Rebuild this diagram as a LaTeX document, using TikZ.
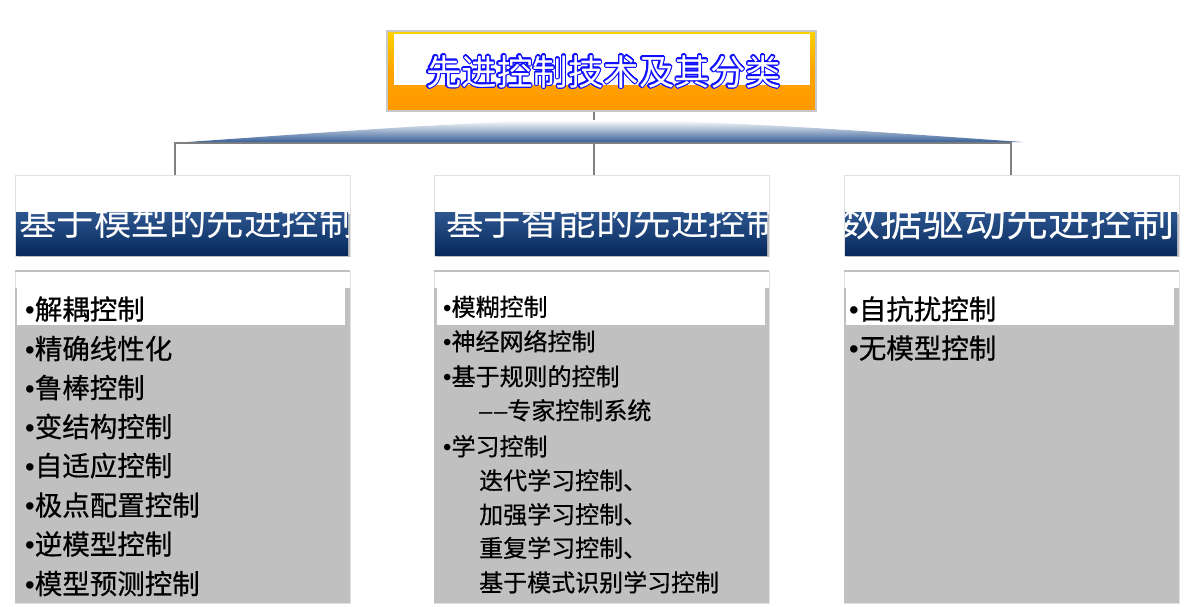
\documentclass[tikz,border=0pt]{standalone}
\usepackage{fontspec}
\usepackage{contour}
\newfontfamily\cjk{Noto Sans CJK SC}
\newfontfamily\cjkb{Noto Sans CJK SC}[FakeBold=0.6]
\newfontfamily\lat{Liberation Sans}
\contourlength{1.1pt}
\contournumber{24}
\definecolor{conn}{HTML}{808080}
\definecolor{tborder}{HTML}{C8C8C8}
\definecolor{ttop}{HTML}{FFD200}
\definecolor{tmid}{HTML}{FFA400}
\definecolor{tbot}{HTML}{FF9900}
\definecolor{hbtop}{HTML}{2D5690}
\definecolor{hbbot}{HTML}{07295C}
\definecolor{barblue}{HTML}{3A6199}
\definecolor{lgray}{HTML}{C0C0C0}
\definecolor{lborder}{HTML}{E0E0E0}
\definecolor{outblue}{HTML}{1010FF}
\newcommand{\bul}{{\lat •}}
\tikzset{
  connector/.style={draw=conn, line width=2.6pt},
  hbox/.style={draw=lborder, line width=0.8pt, fill=white, minimum width=335pt, minimum height=81pt, inner sep=0pt},
  lbox/.style={draw=lborder, line width=0.8pt, fill=white, minimum width=335pt, minimum height=332pt, inner sep=0pt},
  htext/.style={anchor=base west, inner sep=0pt, text=white, font=\cjk\fontsize{37.5}{40}\selectfont},
  itemA/.style={anchor=base west, inner sep=0pt, text=black, font=\cjkb\fontsize{27.5}{30}\selectfont},
  itemB/.style={anchor=base west, inner sep=0pt, text=black, font=\cjkb\fontsize{24}{28}\selectfont},
}
\begin{document}
\begin{tikzpicture}[x=1pt,y=-1pt]
\useasboundingbox (0,0) rectangle (1187,606);
\fill[white] (0,0) rectangle (1187,606);

% ---------- title ----------
\node[draw=tborder, line width=1.6pt, top color=ttop, bottom color=tbot, middle color=tmid,
      minimum width=429pt, minimum height=80pt, inner sep=0pt] (title) at (601.5,71) {};
\fill[white] (394,34) rectangle (810,85);
\node[anchor=base, inner sep=0pt, font=\cjk\fontsize{35.5}{40}\selectfont] (ttext) at (603.5,85)
  {\color{white}\contour{outblue}{先进控制技术及其分类}};

% ---------- header boxes ----------
\node[hbox] (h1) at (182.5,215.5) {};
\node[hbox] (h2) at (601.5,215.5) {};
\node[hbox] (h3) at (1011.5,215.5) {};

% ---------- connectors ----------
\coordinate (b1) at (175,143);
\coordinate (b2) at (594,143);
\coordinate (b3) at (1011,143);
\draw[connector] (title.south -| b2) -- (b2 |- h2.north);
\draw[connector] (b1 |- h1.north) -- (b1) -- (b3) -- (b3 |- h3.north);
\shade[top color=white, bottom color=barblue]
  (188,142) .. controls (400,127) and (500,120) .. (594,120)
            .. controls (700,120) and (810,127) .. (1022,142) -- cycle;

% header blue bars and texts
\foreach \xa/\xb in {16/348, 435/767, 845/1177}{
  \fill[black!25] (\xa+1.5,213.5) rectangle (\xb+1.5,256.5);
  \shade[top color=hbtop, bottom color=hbbot] (\xa,212) rectangle (\xb,255);
}
\begin{scope}
  \clip (16,212) rectangle (348,255);
  \node[htext] (ht1) at (19,235) {基于模型的先进控制};
\end{scope}
\begin{scope}
  \clip (435,212) rectangle (767,255);
  \node[htext] (ht2) at (446,235) {基于智能的先进控制};
\end{scope}
\begin{scope}
  \clip (845,212) rectangle (1177,255);
  \node[htext, font=\cjk\fontsize{42}{44}\selectfont] (ht3) at (838,236.5) {数据驱动先进控制};
\end{scope}

% ---------- list boxes ----------
\node[lbox] (l1) at (182.5,437) {};
\node[lbox] (l2) at (601.5,437) {};
\node[lbox] (l3) at (1011.5,437) {};
\foreach \n in {l1,l2,l3}{
  \draw[lgray, line width=2pt] (\n.north west) -- (\n.north east);
}
\fill[lgray] (15,288) rectangle (350,603);
\fill[white] (17,288) rectangle (345,325);
\fill[lgray] (434,288) rectangle (769,603);
\fill[white] (437,288) rectangle (765,325);
\fill[lgray] (844,288) rectangle (1179,603);
\fill[white] (846,288) rectangle (1174,325);

% column 1 items
\node[itemA] (a1) at (25,319.5) {\bul 解耦控制};
\node[itemA] (a2) at (25,359) {\bul 精确线性化};
\node[itemA] (a3) at (25,398) {\bul 鲁棒控制};
\node[itemA] (a4) at (25,437) {\bul 变结构控制};
\node[itemA] (a5) at (25,476) {\bul 自适应控制};
\node[itemA] (a6) at (25,515.5) {\bul 极点配置控制};
\node[itemA] (a7) at (25,554.5) {\bul 逆模型控制};
\node[itemA] (a8) at (25,594) {\bul 模型预测控制};

% column 2 items
\node[itemB] (c1) at (443,316) {\bul 模糊控制};
\node[itemB] (c2) at (443,350.5) {\bul 神经网络控制};
\node[itemB] (c3) at (443,385.5) {\bul 基于规则的控制};
\node[itemB] (c4) at (479,419.5) {{\lat –\kern1.5pt–}专家控制系统};
\node[itemB] (c5) at (443,455.5) {\bul 学习控制};
\node[itemB] (c6) at (479,489.5) {迭代学习控制、};
\node[itemB] (c7) at (479,523.5) {加强学习控制、};
\node[itemB] (c8) at (479,557) {重复学习控制、};
\node[itemB] (c9) at (479,591.5) {基于模式识别学习控制};

% column 3 items
\node[itemA] (d1) at (849,319.5) {\bul 自抗扰控制};
\node[itemA] (d2) at (849,358.5) {\bul 无模型控制};
\end{tikzpicture}
\end{document}
